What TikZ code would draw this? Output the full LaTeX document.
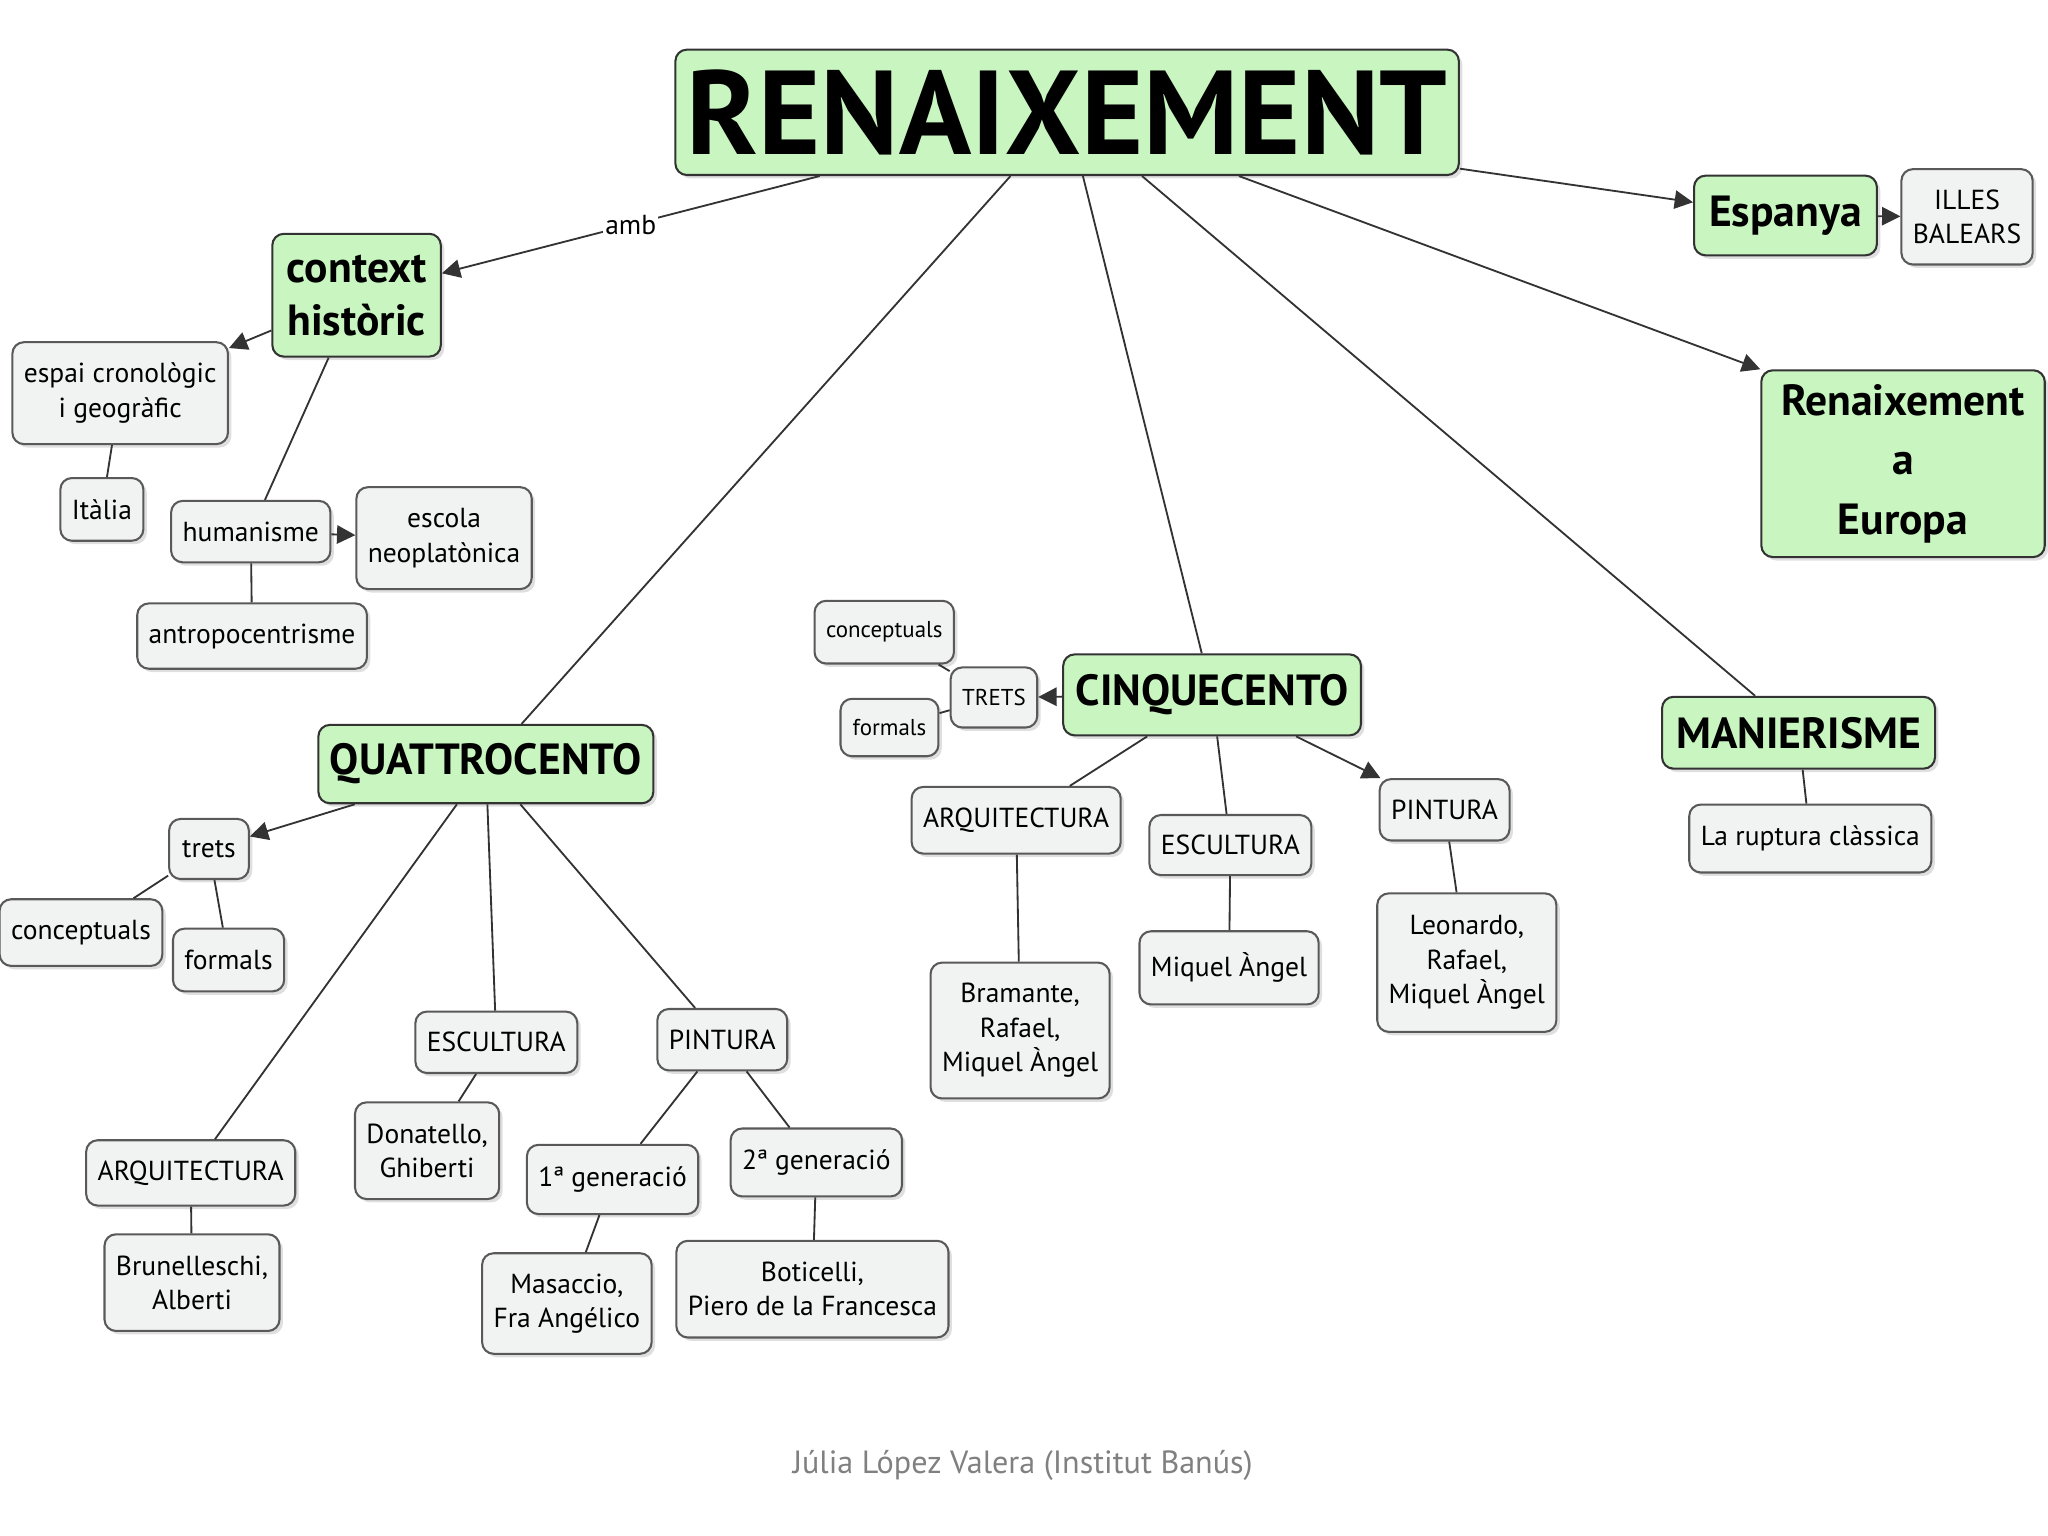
\documentclass[tikz,border=0pt]{standalone}
\usepackage{fontspec}
\setmainfont{PT Sans}
\usetikzlibrary{arrows.meta, positioning, shadows}
\definecolor{mapgreen}{HTML}{C9F5C0}
\definecolor{mapgrey}{HTML}{F1F2F2}
\begin{document}
\begin{tikzpicture}[
    x=0.02cm, y=-0.02cm,
    box/.style={rectangle, draw=gray!70!black, rounded corners=5pt, align=center, fill=mapgrey, line width=0.9pt,
        inner sep=5pt, font=\fontsize{12}{15}\selectfont, drop shadow={opacity=0.25, shadow xshift=1.5pt, shadow yshift=-1.5pt}},
    main/.style={box, fill=mapgreen, draw=black!80, font=\fontsize{19}{23}\selectfont\bfseries},
    link/.style={draw=black!80, line width=0.8pt},
    arrow/.style={link, -{Triangle[length=8pt, width=8pt]}}
]
\useasboundingbox (0,0) rectangle (1568,1176);

% Centre
\node[main, font=\fontsize{52}{60}\selectfont\bfseries, minimum width=580*0.02cm, minimum height=96*0.02cm] (title) at (817,86) {RENAIXEMENT};

% Context historic
\node[main, minimum width=129*0.02cm, minimum height=94*0.02cm] (context) at (273,226) {context\\històric};
\node[box, minimum width=164*0.02cm, minimum height=78*0.02cm] (espai) at (92,301) {espai cronològic\\i geogràfic};
\node[box, minimum height=48*0.02cm] (italia) at (78,390) {Itàlia};
\node[box, minimum width=121*0.02cm, minimum height=47*0.02cm] (humanisme) at (192,407) {humanisme};
\node[box, minimum width=129*0.02cm, minimum height=78*0.02cm] (escola) at (340,412) {escola\\neoplatònica};
\node[box, minimum width=170*0.02cm, minimum height=50*0.02cm] (antropo) at (193,487) {antropocentrisme};

% Espanya i Europa
\node[main, minimum width=140*0.02cm, minimum height=61*0.02cm] (espanya) at (1367,165) {Espanya};
\node[box, minimum width=100*0.02cm, minimum height=73*0.02cm] (illes) at (1506,166) {ILLES\\BALEARS};
\node[main, minimum width=217*0.02cm, minimum height=143*0.02cm, font=\fontsize{19}{26}\selectfont\bfseries] (europa) at (1457,355) {Renaixement\\a\\Europa};

% Manierisme
\node[main, minimum width=209*0.02cm, minimum height=55*0.02cm] (manierisme) at (1377,561) {MANIERISME};
\node[box, minimum width=179*0.02cm, minimum height=52*0.02cm] (ruptura) at (1386,642) {La ruptura clàssica};

% Cinquecento
\node[main, minimum width=228*0.02cm, minimum height=62*0.02cm] (cinque) at (928,532) {CINQUECENTO};
\node[box, font=\fontsize{10}{12}\selectfont, minimum height=46*0.02cm] (trets2) at (761,534) {TRETS};
\node[box, font=\fontsize{10}{12}\selectfont, minimum width=104*0.02cm, minimum height=48*0.02cm] (concept2) at (677,484) {conceptuals};
\node[box, font=\fontsize{10}{12}\selectfont, minimum width=75*0.02cm, minimum height=44*0.02cm] (formals2) at (681,557) {formals};
\node[box, minimum width=156*0.02cm, minimum height=51*0.02cm] (arqC) at (778,628) {ARQUITECTURA};
\node[box, minimum width=124*0.02cm, minimum height=46*0.02cm] (escC) at (942,647) {ESCULTURA};
\node[box, minimum width=98*0.02cm, minimum height=47*0.02cm] (pinC) at (1106,620) {PINTURA};
\node[box, minimum width=130*0.02cm, minimum height=104*0.02cm] (bramante) at (781,789) {Bramante,\\Rafael,\\Miquel Àngel};
\node[box, minimum width=129*0.02cm, minimum height=56*0.02cm] (miquel) at (941,741) {Miquel Àngel};
\node[box, minimum width=130*0.02cm, minimum height=106*0.02cm] (leonardo) at (1123,737) {Leonardo,\\Rafael,\\Miquel Àngel};

% Quattrocento
\node[main, minimum width=254*0.02cm, minimum height=60*0.02cm] (quattro) at (372,585) {QUATTROCENTO};
\node[box, minimum width=61*0.02cm, minimum height=46*0.02cm] (trets) at (160,650) {trets};
\node[box, minimum width=121*0.02cm, minimum height=51*0.02cm] (concept) at (62,714) {conceptuals};
\node[box, minimum width=85*0.02cm, minimum height=48*0.02cm] (formals) at (175,735) {formals};
\node[box, minimum width=123*0.02cm, minimum height=47*0.02cm] (escQ) at (380,798) {ESCULTURA};
\node[box, minimum width=98*0.02cm, minimum height=47*0.02cm] (pinQ) at (553,796) {PINTURA};
\node[box, minimum width=157*0.02cm, minimum height=50*0.02cm] (arqQ) at (146,898) {ARQUITECTURA};
\node[box, minimum width=130*0.02cm, minimum height=74*0.02cm] (brunel) at (147,982) {Brunelleschi,\\Alberti};
\node[box, minimum width=109*0.02cm, minimum height=74*0.02cm] (donatello) at (327,881) {Donatello,\\Ghiberti};
\node[box, minimum width=130*0.02cm, minimum height=53*0.02cm] (gen1) at (469,903) {1ª generació};
\node[box, minimum width=128*0.02cm, minimum height=52*0.02cm] (gen2) at (625,890) {2ª generació};
\node[box, minimum width=125*0.02cm, minimum height=77*0.02cm] (masaccio) at (434,998) {Masaccio,\\Fra Angélico};
\node[box, minimum width=200*0.02cm, minimum height=74*0.02cm] (boticelli) at (622,987) {Boticelli,\\Piero de la Francesca};

\node[text=gray, font=\fontsize{14}{16}\selectfont] (credit) at (783,1122) {Júlia López Valera (Institut Banús)};

% Connexions
\draw[arrow] (title) -- node[fill=white, inner sep=1pt, font=\fontsize{12}{14}\selectfont] {amb} (context);
\draw[arrow] (title) -- (espanya);
\draw[arrow] (espanya) -- (illes);
\draw[arrow] (title) -- (europa.north west);
\draw[link] (title) -- (manierisme);
\draw[link] (title) -- (cinque);
\draw[link] (title) -- (quattro);

\draw[arrow] (context) -- (espai);
\draw[link] (espai) -- (italia);
\draw[link] (context) -- (humanisme);
\draw[arrow] (humanisme) -- (escola);
\draw[link] (humanisme) -- (antropo);

\draw[link] (manierisme) -- (ruptura);

\draw[arrow] (cinque) -- (trets2);
\draw[link] (trets2) -- (concept2);
\draw[link] (trets2) -- (formals2);
\draw[link] (cinque) -- (arqC);
\draw[link] (cinque) -- (escC);
\draw[arrow] (cinque) -- (pinC);
\draw[link] (arqC) -- (bramante);
\draw[link] (escC) -- (miquel);
\draw[link] (pinC) -- (leonardo);

\draw[arrow] (quattro) -- (trets);
\draw[link] (trets) -- (concept);
\draw[link] (trets) -- (formals);
\draw[link] (quattro) -- (arqQ);
\draw[link] (quattro) -- (escQ);
\draw[link] (quattro) -- (pinQ);
\draw[link] (arqQ) -- (brunel);
\draw[link] (escQ) -- (donatello);
\draw[link] (pinQ) -- (gen1);
\draw[link] (pinQ) -- (gen2);
\draw[link] (gen1) -- (masaccio);
\draw[link] (gen2) -- (boticelli);
\end{tikzpicture}
\end{document}
